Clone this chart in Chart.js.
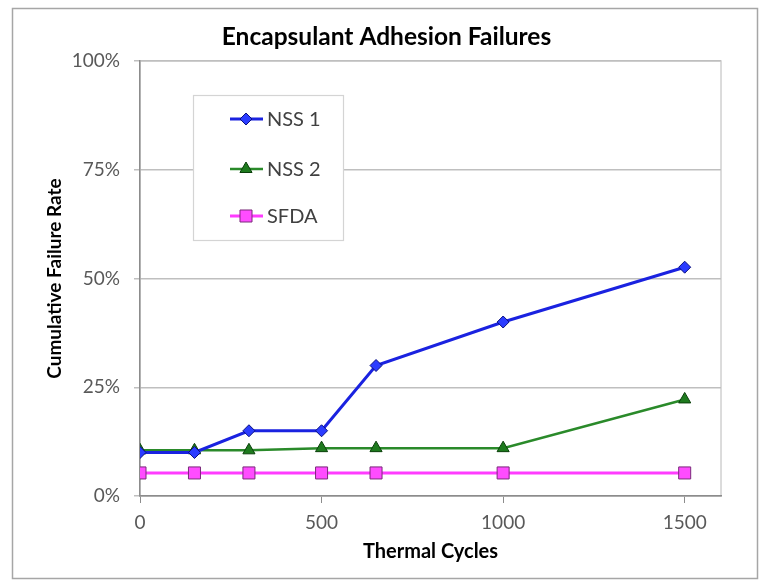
<!DOCTYPE html>
<html>
<head>
<meta charset="utf-8">
<script src="https://cdn.jsdelivr.net/npm/chart.js@4"></script>
<style>
html,body{margin:0;padding:0;background:#fff;}
#wrap{width:768px;height:585px;position:relative;}
</style>
</head>
<body>
<div id="wrap"><canvas id="c" width="768" height="585"></canvas></div>
<script>
const cycles = [0, 150, 300, 500, 650, 1000, 1500];
const nss1 = [10, 10, 15, 15, 30, 40, 52.6];
const nss2 = [10.5, 10.5, 10.5, 11, 11, 11, 22.2];
const sfda = [5.3, 5.3, 5.3, 5.3, 5.3, 5.3, 5.3];
const seriesNames = ['NSS 1', 'NSS 2', 'SFDA'];
const xTicks = [0, 500, 1000, 1500];
const yTicks = [0, 25, 50, 75, 100];

const FONT = 'Lato, "Open Sans", sans-serif';

function pts(vals){ return cycles.map((x,i)=>({x:x, y:vals[i]})); }

const frame = {
  id:'frame',
  beforeDraw(chart){
    const ctx = chart.ctx, a = chart.chartArea;
    ctx.save();
    ctx.fillStyle = '#fff';
    ctx.fillRect(0,0,chart.width,chart.height);
    ctx.strokeStyle = '#a6a6a6';
    ctx.lineWidth = 1.5;
    ctx.strokeRect(12.5, 8.5, 745, 570);
    ctx.strokeStyle = '#d0d0d0';
    ctx.lineWidth = 1.5;
    ctx.strokeRect(a.left, a.top, a.right - a.left, a.bottom - a.top);
    ctx.restore();
  }
};

const boxLegend = {
  id:'boxLegend',
  afterDatasetsDraw(chart){
    const ctx = chart.ctx;
    ctx.save();
    ctx.fillStyle = '#fff';
    ctx.fillRect(193, 95, 150, 145);
    ctx.strokeStyle = '#d4d4d4';
    ctx.lineWidth = 1.2;
    ctx.strokeRect(193.5, 95.5, 150, 145);
    const ys = [119, 169, 216];
    chart.data.datasets.forEach((ds, i) => {
      const y = ys[i];
      ctx.strokeStyle = ds.borderColor;
      ctx.lineWidth = ds.borderWidth;
      ctx.beginPath(); ctx.moveTo(230, y); ctx.lineTo(263, y); ctx.stroke();
      ctx.fillStyle = ds.pointBackgroundColor;
      ctx.strokeStyle = ds.pointBorderColor;
      ctx.lineWidth = 1;
      Chart.helpers.drawPoint(ctx, {pointStyle: ds.pointStyle, radius: ds.pointRadius, borderWidth: 1}, 246, y);
      ctx.fillStyle = '#404040';
      ctx.font = '20px ' + FONT;
      ctx.textBaseline = 'middle';
      ctx.textAlign = 'left';
      ctx.fillText(ds.label, 267, y + 1);
    });
    ctx.restore();
  }
};

new Chart(document.getElementById('c'), {
  type: 'line',
  data: {
    datasets: [
      { label: seriesNames[0], data: pts(nss1), borderColor: '#1a22e0', borderWidth: 3,
        pointStyle: 'rectRot', pointRadius: 6, pointBackgroundColor: '#2b3cff', pointBorderColor: '#0a1080', pointBorderWidth: 1 },
      { label: seriesNames[1], data: pts(nss2), borderColor: '#2a8a2a', borderWidth: 2.5,
        pointStyle: 'triangle', pointRadius: 7, pointBackgroundColor: '#1e7a1e', pointBorderColor: '#0a400a', pointBorderWidth: 1 },
      { label: seriesNames[2], data: pts(sfda), borderColor: '#ff3cff', borderWidth: 3,
        pointStyle: 'rect', pointRadius: 8.5, pointBackgroundColor: '#ff4cff', pointBorderColor: '#7a2a7a', pointBorderWidth: 1 }
    ]
  },
  options: {
    responsive: false,
    animation: false,
    devicePixelRatio: 1,
    layout: { padding: { left: 52, right: 47, top: 0, bottom: 0 } },
    plugins: {
      legend: { display: false },
      tooltip: { enabled: false },
      title: {
        display: true, text: 'Encapsulant Adhesion Failures', color: '#000',
        font: { family: FONT, size: 24.5, weight: 'bold' },
        padding: { top: 22, bottom: 9.6 }
      }
    },
    scales: {
      x: {
        type: 'linear', min: 0, max: 1600,
        afterFit(s){ s.height = 89; },
        afterBuildTicks(s){ s.ticks = xTicks.map(v => ({value: v})); },
        grid: { drawOnChartArea: false, drawTicks: true, tickLength: 7, color: '#8c8c8c' },
        border: { color: '#8c8c8c', width: 1.5 },
        ticks: { color: '#595959', font: { family: FONT, size: 19 }, padding: 8, maxRotation: 0,
          callback: v => String(v) },
        title: { display: true, text: 'Thermal Cycles', color: '#000',
          font: { family: FONT, size: 20, weight: 'bold' }, padding: { top: 0, bottom: 21 } }
      },
      y: {
        min: 0, max: 100,
        afterFit(s){ s.width = 88; },
        afterBuildTicks(s){ s.ticks = yTicks.map(v => ({value: v})); },
        grid: { color: '#bfbfbf', lineWidth: 1.5, tickLength: 6 },
        border: { color: '#8c8c8c', width: 1.5 },
        ticks: { color: '#595959', font: { family: FONT, size: 19 }, padding: 14,
          callback: v => v + '%' },
        title: { display: true, text: 'Cumulative Failure Rate', color: '#000',
          font: { family: FONT, size: 19, weight: 'bold' }, padding: { top: -8.4, bottom: 0 } }
      }
    }
  },
  plugins: [frame, boxLegend]
});
</script>
</body>
</html>
